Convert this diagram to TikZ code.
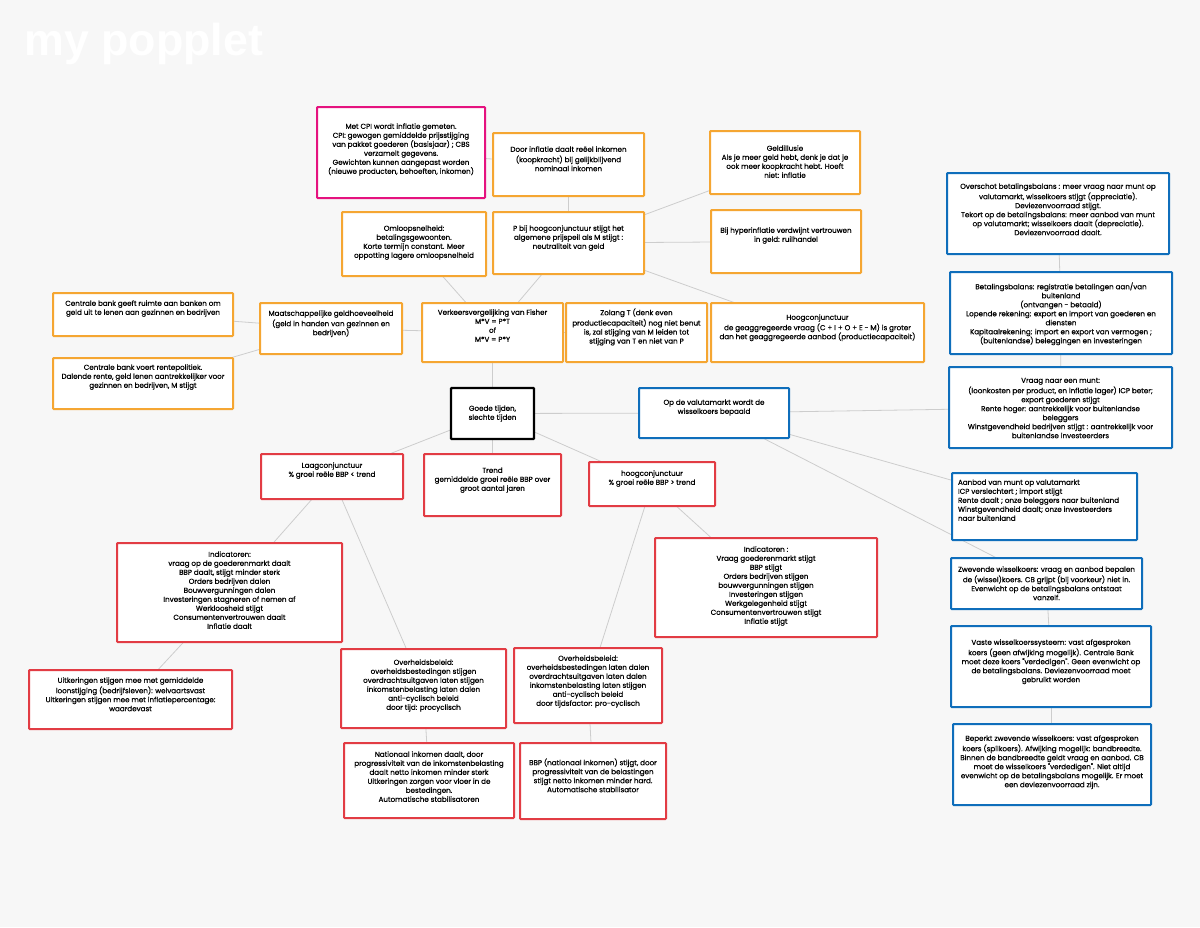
\documentclass[tikz,border=0pt]{standalone}
\usepackage{fontspec}
\usepackage{xcolor}
\usepackage{tikz}
\usetikzlibrary{backgrounds}
\setmainfont{Poppins}
\newfontfamily\popfont[FakeBold=0.7]{Poppins}
\newfontfamily\titlefont{Liberation Sans}
\definecolor{popbg}{RGB}{247,247,247}
\definecolor{popedge}{RGB}{205,205,205}
\definecolor{poporange}{RGB}{245,166,50}
\definecolor{popred}{RGB}{226,60,68}
\definecolor{popblue}{RGB}{15,110,187}
\definecolor{poppink}{RGB}{229,18,127}
% box text: width, height, offset of first line, text
\newcommand{\boxtext}[4]{\parbox[t][#2pt][t]{#1pt}{\vspace*{\dimexpr #3pt-4.5pt\relax}\centering\strut #4}}
\tikzset{
  popbox/.style={draw, fill=white, line width=2pt, rounded corners=0.8pt, anchor=north west, inner sep=0pt, outer sep=0pt, font=\popfont\fontsize{7.15}{9}\selectfont},
  orangebox/.style={popbox, draw=poporange},
  redbox/.style={popbox, draw=popred},
  bluebox/.style={popbox, draw=popblue},
  pinkbox/.style={popbox, draw=poppink},
  blackbox/.style={popbox, draw=black, line width=2.4pt},
  popline/.style={draw=popedge, line width=0.8pt}
}
\begin{document}
\begin{tikzpicture}[x=1pt,y=-1pt]
\useasboundingbox (0,0) rectangle (1200,927);
\node[anchor=north west, inner sep=0pt, text=white, font=\titlefont\fontsize{44.8}{48}\selectfont\bfseries] (title) at (24,23) {my popplet};

% centre
\node[blackbox] (goede) at (451,388) {\boxtext{83}{51}{21}{Goede tijden,\\ slechte tijden}};

% money (orange)
\node[pinkbox] (cpi) at (317,107) {\boxtext{168}{91}{20}{Met CPI wordt inflatie gemeten.\\ CPI: gewogen gemiddelde prijsstijging\\ van pakket goederen (basisjaar) ; CBS\\ verzamelt gegevens.\\ Gewichten kunnen aangepast worden\\ (nieuwe producten, behoeften, inkomen)}};
\node[orangebox] (door) at (493,133) {\boxtext{151}{63}{17}{Door inflatie daalt reëel inkomen\\ (koopkracht) bij gelijkblijvend\\ nominaal inkomen}};
\node[orangebox] (omloop) at (342,212) {\boxtext{144}{64}{17}{Omloopsnelheid:\\ betalingsgewoonten.\\ Korte termijn constant. Meer\\ oppotting lagere omloopsnelheid}};
\node[orangebox] (pbij) at (493,212) {\boxtext{151}{62}{17}{P bij hoogconjunctuur stijgt het\\ algemene prijspeil als M stijgt :\\ neutraliteit van geld}};
\node[orangebox] (illusie) at (710,131) {\boxtext{150}{63}{18}{Geldillusie\\ Als je meer geld hebt, denk je dat je\\ ook meer koopkracht hebt. Hoeft\\ niet: inflatie}};
\node[orangebox] (hyper) at (711,210) {\boxtext{150}{63}{21}{Bij hyperinflatie verdwijnt vertrouwen\\ in geld: ruilhandel}};
\node[orangebox] (hoogcon) at (711,303) {\boxtext{213}{59}{15}{Hoogconjunctuur\\ de geaggregeerde vraag (C + I + O + E - M) is groter\\ dan het geaggregeerde aanbod (productiecapaciteit)}};
\node[orangebox] (zolang) at (566,303) {\boxtext{141}{59}{10}{Zolang T (denk even\\ productiecapaciteit) nog niet benut\\ is, zal stijging van M leiden tot\\ stijging van T en niet van P}};
\node[orangebox] (fisher) at (422,303) {\boxtext{141}{59}{10}{Verkeersvergelijking van Fisher\\ M*V = P*T\\ of\\ M*V = P*Y}};
\node[orangebox] (maat) at (260,303) {\boxtext{142}{51}{11}{Maatschappelijke geldhoeveelheid\\ (geld in handen van gezinnen en\\ bedrijven)}};
\node[orangebox] (ruimte) at (53,293) {\boxtext{180}{43}{11}{Centrale bank geeft ruimte aan banken om\\ geld uit te lenen aan gezinnen en bedrijven}};
\node[orangebox] (rente) at (53,358) {\boxtext{180}{51}{10}{Centrale bank voert rentepolitiek.\\ Dalende rente, geld lenen aantrekkelijker voor\\ gezinnen en bedrijven, M stijgt}};

% cycle (red)
\node[redbox] (trend) at (424,454) {\boxtext{137}{62}{17}{Trend\\ gemiddelde groei reële BBP over\\ groot aantal jaren}};
\node[redbox] (hoog) at (589,462) {\boxtext{126}{44}{12}{hoogconjunctuur\\ \% groei reële BBP > trend}};
\node[redbox] (laag) at (261,454) {\boxtext{142}{45}{12}{Laagconjunctuur\\ \% groei reële BBP < trend}};
\node[redbox] (indlaag) at (117,543) {\boxtext{225}{99}{12}{Indicatoren:\\ vraag op de goederenmarkt daalt\\ BBP daalt, stijgt minder sterk\\ Orders bedrijven dalen\\ Bouwvergunningen dalen\\ Investeringen stagneren of nemen af\\ Werkloosheid stijgt\\ Consumentenvertrouwen daalt\\ Inflatie daalt}};
\node[redbox] (uitk) at (29,670) {\boxtext{203}{59}{11}{Uitkeringen stijgen mee met gemiddelde\\ loonstijging (bedrijfsleven): welvaartsvast\\ Uitkeringen stijgen mee met inflatiepercentage:\\ waardevast}};
\node[redbox] (ovlaag) at (341,649) {\boxtext{165}{79}{14}{Overheidsbeleid:\\ overheidsbestedingen stijgen\\ overdrachtsuitgaven laten stijgen\\ inkomstenbelasting laten dalen\\ anti-cyclisch beleid\\ door tijd: procyclisch}};
\node[redbox] (ovhoog) at (514,648) {\boxtext{148}{75}{11}{Overheidsbeleid:\\ overheidsbestedingen laten dalen\\ overdrachtsuitgaven laten dalen\\ inkomstenbelasting laten stijgen\\ anti-cyclisch beleid\\ door tijdsfactor: pro-cyclisch}};
\node[redbox] (natink) at (344,743) {\boxtext{170}{75}{12}{Nationaal inkomen daalt, door\\ progressiviteit van de inkomstenbelasting\\ daalt netto inkomen minder sterk\\ Uitkeringen zorgen voor vloer in de\\ bestedingen.\\ Automatische stabilisatoren}};
\node[redbox] (bbp) at (520,743) {\boxtext{146}{76}{20}{BBP (nationaal inkomen) stijgt, door\\ progressiviteit van de belastingen\\ stijgt netto inkomen minder hard.\\ Automatische stabilisator}};
\node[redbox] (indhoog) at (655,538) {\boxtext{222}{99}{12}{Indicatoren :\\ Vraag goederenmarkt stijgt\\ BBP stijgt\\ Orders bedrijven stijgen\\ bouwvergunningen stijgen\\ Investeringen stijgen\\ Werkgelegenheid stijgt\\ Consumentenvertrouwen stijgt\\ Inflatie stijgt}};

% exchange rate (blue)
\node[bluebox] (valuta) at (639,388) {\boxtext{150}{50}{15}{Op de valutamarkt wordt de\\ wisselkoers bepaald}};
\node[bluebox] (overschot) at (947,173) {\boxtext{222}{81}{14}{Overschot betalingsbalans : meer vraag naar munt op\\ valutamarkt, wisselkoers stijgt (appreciatie).\\ Deviezenvoorraad stijgt.\\ Tekort op de betalingsbalans: meer aanbod van munt\\ op valutamarkt; wisselkoers daalt (depreciatie).\\ Deviezenvoorraad daalt.}};
\node[bluebox] (balans) at (950,272) {\boxtext{222}{82}{15}{Betalingsbalans: registratie betalingen aan/van\\ buitenland\\ (ontvangen - betaald)\\ Lopende rekening: export en import van goederen en\\ diensten\\ Kapitaalrekening: import en export van vermogen ;\\ (buitenlandse) beleggingen en investeringen}};
\node[bluebox] (vraag) at (949,367) {\boxtext{223}{81}{14}{Vraag naar een munt:\\ (loonkosten per product, en inflatie lager) ICP beter;\\ export goederen stijgt\\ Rente hoger: aantrekkelijk voor buitenlandse\\ beleggers\\ Winstgevendheid bedrijven stijgt : aantrekkelijk voor\\ buitenlandse investeerders}};
\node[bluebox] (aanbod) at (952,473) {\boxtext{185}{67}{10}{\raggedright\leftskip=6pt Aanbod van munt op valutamarkt\\ ICP verslechtert ; import stijgt\\ Rente daalt ; onze beleggers naar buitenland\\ Winstgevendheid daalt; onze investeerders\\ naar buitenland}};
\node[bluebox] (zwevend) at (951,558) {\boxtext{191}{51}{12}{Zwevende wisselkoers: vraag en aanbod bepalen\\ de (wissel)koers. CB grijpt (bij voorkeur) niet in.\\ Evenwicht op de betalingsbalans ontstaat\\ vanzelf.}};
\node[bluebox] (vast) at (951,626) {\boxtext{200}{81}{17}{Vaste wisselkoerssysteem: vast afgesproken\\ koers (geen afwijking mogelijk). Centrale Bank\\ moet deze koers "verdedigen". Geen evenwicht op\\ de betalingsbalans. Deviezenvoorraad moet\\ gebruikt worden}};
\node[bluebox] (beperkt) at (953,724) {\boxtext{198}{81}{15}{Beperkt zwevende wisselkoers: vast afgesproken\\ koers (spilkoers). Afwijking mogelijk: bandbreedte.\\ Binnen de bandbreedte geldt vraag en aanbod. CB\\ moet de wisselkoers "verdedigen". Niet altijd\\ evenwicht op de betalingsbalans mogelijk. Er moet\\ een deviezenvoorraad zijn.}};

% Connections
\begin{scope}[on background layer]
\fill[popbg] (0,0) rectangle (1200,927);
\foreach \from/\to in {goede/fisher, goede/valuta, goede/laag, goede/trend, goede/hoog,
    fisher/maat, fisher/omloop, fisher/pbij, fisher/zolang,
    pbij/door, pbij/illusie, pbij/hyper, pbij/hoogcon, door/cpi,
    maat/ruimte, maat/rente,
    laag/indlaag, laag/ovlaag, indlaag/uitk, ovlaag/natink,
    hoog/indhoog, hoog/ovhoog, ovhoog/bbp,
    valuta/vraag, valuta/aanbod, valuta/zwevend,
    vraag/balans, balans/overschot, zwevend/vast, vast/beperkt}
  \draw[popline] (\from.center) -- (\to.center);
\end{scope}
\end{tikzpicture}
\end{document}
